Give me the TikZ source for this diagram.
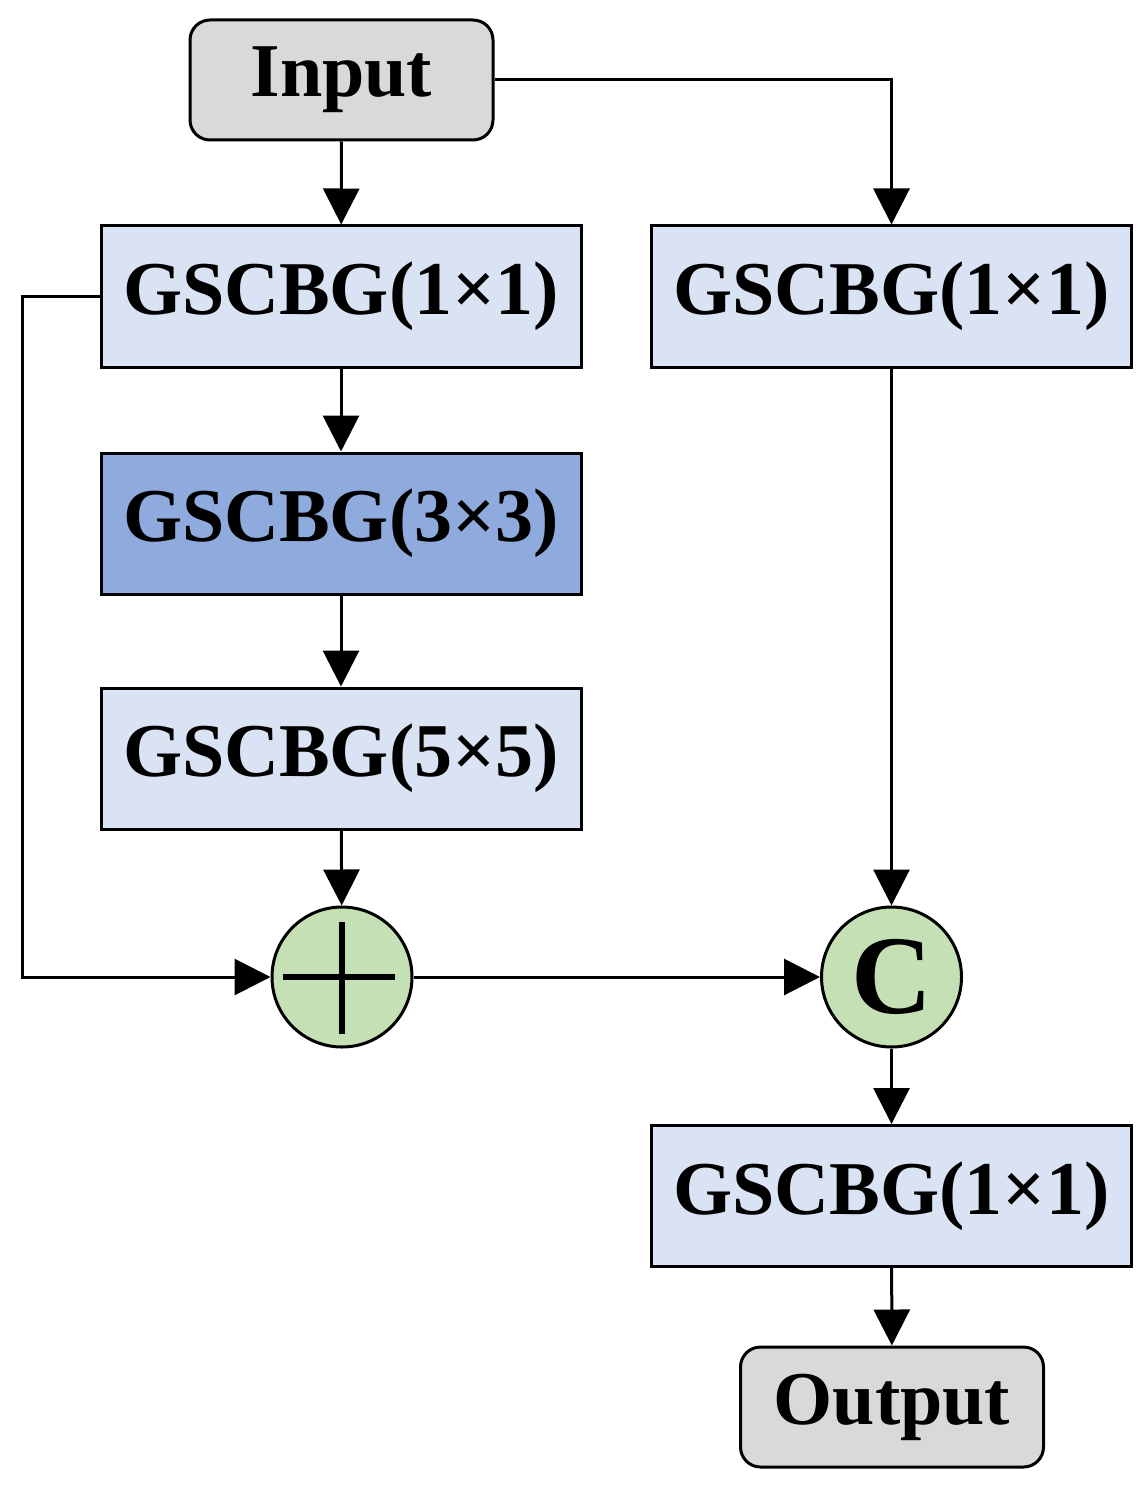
\documentclass[tikz,border=0pt]{standalone}
\usepackage{fontspec}
\setmainfont{Liberation Serif}
\usetikzlibrary{arrows.meta}
\definecolor{lb}{HTML}{DAE3F3}
\definecolor{db}{HTML}{8FAADC}
\definecolor{gr}{HTML}{D9D9D9}
\definecolor{gn}{HTML}{C5E0B4}
\begin{document}
\begin{tikzpicture}[x=0.5pt,y=-0.5pt,
 box/.style={draw,line width=1.5pt,minimum width=240pt,minimum height=70.5pt,inner sep=0pt,font=\fontsize{38}{40}\selectfont\bfseries},
 rbox/.style={box,rounded corners=10pt,fill=gr,minimum width=151.5pt,minimum height=60pt},
 circ/.style={draw,circle,line width=1.5pt,fill=gn,minimum size=70pt,inner sep=0pt},
 arr/.style={line width=1.5pt,-{Triangle[length=18pt,width=18pt]}},
 ln/.style={line width=1.5pt}]
\useasboundingbox (0,0) rectangle (1143,1487);
\node[rbox] (in) at (341.5,80) {Input};
\node[box,fill=lb] (b1) at (341,296.5) {GSCBG(1×1)};
\node[box,fill=db] (b3) at (341,523.5) {GSCBG(3×3)};
\node[box,fill=lb] (b5) at (341,758.5) {GSCBG(5×5)};
\node[circ] (plus) at (342,977) {};
\draw[line width=3pt] (283,977) -- (395,977) (342,922) -- (342,1034);
\node[box,fill=lb] (r1) at (891.5,296.5) {GSCBG(1×1)};
\node[circ,font=\fontsize{56}{56}\selectfont\bfseries] (c) at (891.5,977) {C};
\node[box,fill=lb] (r2) at (891.5,1196) {GSCBG(1×1)};
\node[rbox] (out) at (892,1407) {Output};
\draw[arr] (in) -- (b1);
\draw[arr] (b1) -- (b3);
\draw[arr] (b3) -- (b5);
\draw[arr] (b5) -- (plus);
\draw[arr] (in.east) -| (r1.north);
\draw[arr] (b1.west) -- (22,296.5) |- (plus.west);
\draw[arr] (plus) -- (c);
\draw[arr] (r1) -- (c);
\draw[arr] (c) -- (r2);
\draw[arr] (r2) -- (out);
\end{tikzpicture}
\end{document}
